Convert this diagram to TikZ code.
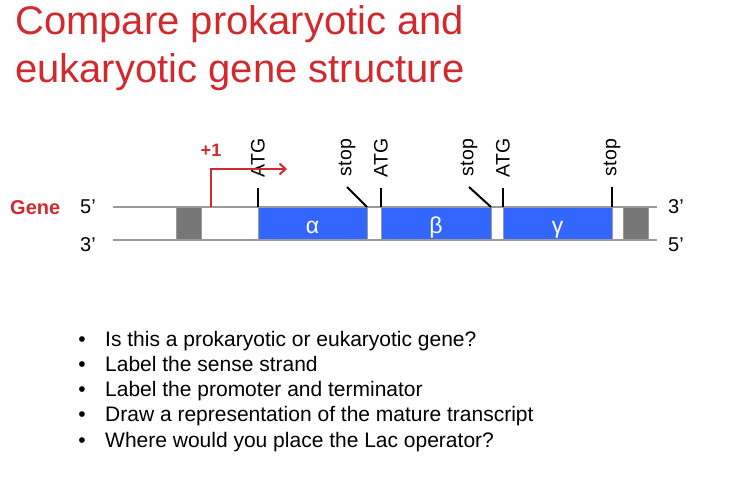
\documentclass[tikz,border=0pt]{standalone}
\usepackage{fontspec}
\setmainfont{Liberation Sans}
\usetikzlibrary{positioning,arrows.meta}
\definecolor{slidered}{HTML}{D12A2E}
\definecolor{exonblue}{HTML}{3366FF}
\definecolor{boxgrey}{HTML}{777777}
\definecolor{strandgrey}{HTML}{9A9A9A}

\begin{document}
\begin{tikzpicture}[x=1pt,y=-1pt,
  seg/.style={rectangle,draw=strandgrey,line width=1pt,minimum height=33pt,
    inner sep=0pt,outer sep=0pt},
  exon/.style={seg,fill=exonblue,text=white,font=\fontsize{23}{23}\selectfont,
    text height=19pt,text depth=0pt},
  every node/.append style={inner sep=0pt}]
  \tikzstyle{title} = [anchor=base west,text=slidered,font=\fontsize{40}{48}\selectfont]
  \tikzstyle{strand} = [strandgrey,line width=2.5pt]
  \tikzstyle{tick} = [black,line width=2pt]
  \tikzstyle{codon} = [rotate=90,anchor=west,outer xsep=11pt,font=\fontsize{19.5}{19.5}\selectfont]
  \tikzstyle{endlabel} = [anchor=base west,font=\fontsize{20}{20}\selectfont]
  \tikzstyle{question} = [anchor=base west,font=\fontsize{21}{25}\selectfont]
  \useasboundingbox (0,0) rectangle (752,500);
  \node[title] (title1) at (15,35) {Compare prokaryotic and};
  \node[title] (title2) at (15,83) {eukaryotic gene structure};
  \node (grey1) [seg,fill=boxgrey,minimum width=25pt,anchor=west] at (176,223.5) {};
  \node (utr1) [seg,fill=white,minimum width=57pt,right=0pt of grey1] {};
  \node (alpha) [exon,minimum width=109pt,right=0pt of utr1] {α};
  \node (sp1) [seg,fill=white,minimum width=14pt,right=0pt of alpha] {};
  \node (beta) [exon,minimum width=110pt,right=0pt of sp1] {β};
  \node (sp2) [seg,fill=white,minimum width=12pt,right=0pt of beta] {};
  \node (gamma) [exon,minimum width=109pt,right=0pt of sp2] {γ};
  \node (utr2) [seg,fill=white,minimum width=11pt,right=0pt of gamma] {};
  \node (grey2) [seg,fill=boxgrey,minimum width=25pt,right=0pt of utr2] {};
  \coordinate (top5) at (113,207);
  \coordinate (top3) at (657,207);
  \coordinate (bot3) at (113,240);
  \coordinate (bot5) at (657,240);
  \draw[strand] (top5) -- (top3);
  \draw[strand] (bot3) -- (bot5);
  \draw[tick] (alpha.north west) -- ++(0,-19) node[codon] {ATG};
  \draw[tick] (alpha.north east) -- ++(-20,-20) node[codon] {stop};
  \draw[tick] (beta.north west) -- ++(0,-19) node[codon] {ATG};
  \draw[tick] (beta.north east) -- ++(-22,-20) node[codon] {stop};
  \draw[tick] (gamma.north west) -- ++(0,-19) node[codon] {ATG};
  \draw[tick] (gamma.north east) -- ++(0,-20) node[codon] {stop};
  \draw[slidered,line width=2pt,-{Straight Barb[length=6pt,width=11pt]}]
    ([xshift=10pt]utr1.north west) coordinate (tss) |- ++(76,-38) coordinate (tx);
  \node (plus1) [text=slidered,font=\bfseries\fontsize{18}{18}\selectfont] at (211,150) {+1};
  \node (gene) [endlabel,text=slidered,font=\bfseries\fontsize{20}{20}\selectfont] at (10,214) {Gene};
  \node (l5) [endlabel] at (80,213) {5’};
  \node (l3) [endlabel] at (80,251) {3’};
  \node (r3) [endlabel] at (668,213) {3’};
  \node (r5) [endlabel] at (668,251) {5’};
  \foreach \q [count=\i] in {Is this a prokaryotic or eukaryotic gene?,
    Label the sense strand, Label the promoter and terminator,
    Draw a representation of the mature transcript,
    Where would you place the Lac operator?}
  {
    \node (dot\i) [question,anchor=base] at (82,346+25.3*\i-25.3) {•};
    \node (q\i) [question] at (105,346+25.3*\i-25.3) {\q};
  }
\end{tikzpicture}
\end{document}
